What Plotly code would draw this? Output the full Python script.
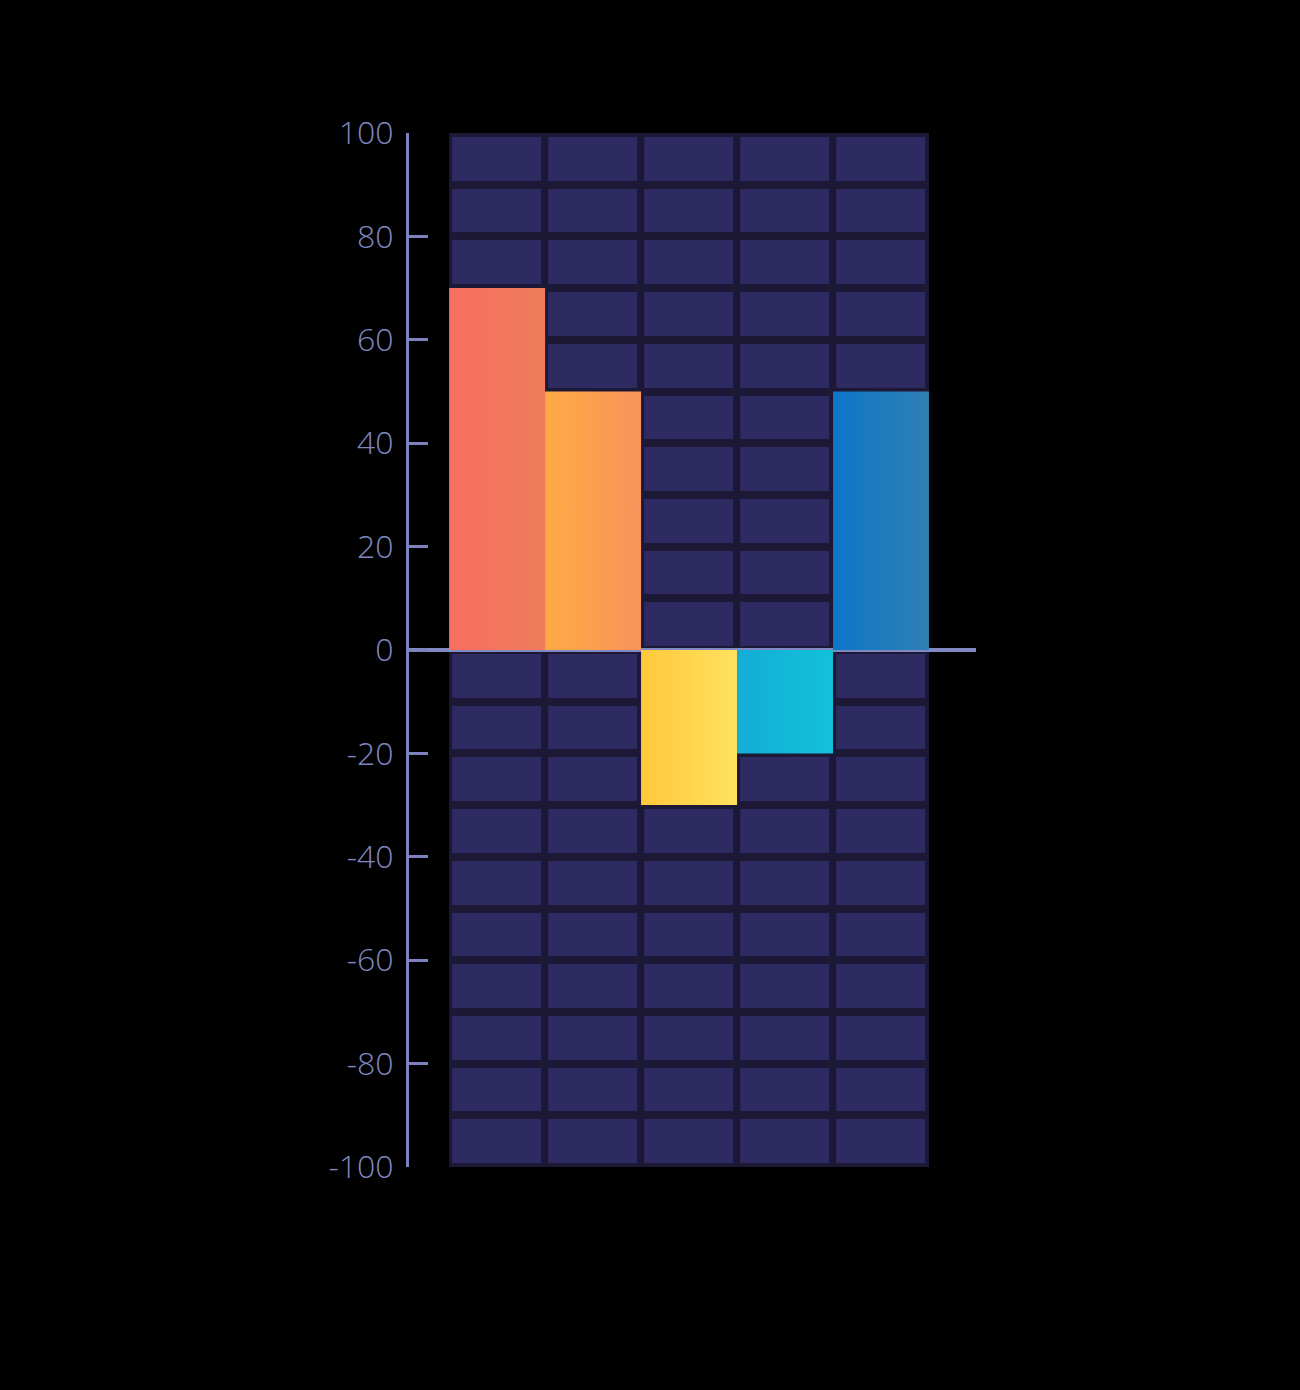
import plotly.graph_objects as go

# ---- data ----
categories = [0, 1, 2, 3, 4]
values = [70, 50, -30, -20, 50]
left_colors = ["#F86E60", "#FFAB45", "#FFC83C", "#14ADD6", "#0E76CA"]
right_colors = ["#EE7C5C", "#F7935A", "#FFE15E", "#12C1DA", "#2F80B2"]
tick_vals = [-100, -80, -60, -40, -20, 0, 20, 40, 60, 80, 100]
tick_text = [str(v) for v in tick_vals]
grid_rows = [-95 + 10 * i for i in range(20)]

BG = "#000000"
AXIS = "#7C83BC"
CELL = "#2E2A62"
GAP = "#1D1836"

fig = go.Figure()

# background grid cells
fig.add_trace(go.Heatmap(
    x=categories, y=grid_rows,
    z=[[1] * len(categories) for _ in grid_rows],
    colorscale=[[0, CELL], [1, CELL]], showscale=False,
    xgap=7, ygap=8, hoverinfo="skip",
))

# bars with horizontal gradient
for c, v, cl, cr in zip(categories, values, left_colors, right_colors):
    fig.add_trace(go.Scatter(
        x=[c - 0.5, c + 0.5, c + 0.5, c - 0.5, c - 0.5],
        y=[0, 0, v, v, 0],
        mode="lines", line=dict(width=0),
        fill="toself",
        fillgradient=dict(type="horizontal", colorscale=[[0, cl], [1, cr]]),
        hoverinfo="skip", showlegend=False,
    ))

fig.add_shape(type="rect", xref="x", yref="y", x0=-0.5, x1=4.5, y0=-100, y1=100,
              fillcolor=GAP, line=dict(width=0), layer="below")

fig.update_layout(
    width=1300, height=1390,
    paper_bgcolor=BG, plot_bgcolor=BG,
    margin=dict(l=409, r=324, t=133, b=223),
    showlegend=False,
    font=dict(family="Open Sans, Noto Sans, sans-serif", color=AXIS),
)
fig.update_xaxes(range=[-0.918, 4.99], visible=False, showgrid=False, zeroline=False)
fig.update_yaxes(
    range=[-100, 100], tickvals=tick_vals, ticktext=tick_text,
    showgrid=False, showline=True, linecolor=AXIS, linewidth=3,
    ticks="inside", ticklen=19, tickwidth=3, tickcolor=AXIS,
    tickfont=dict(size=32, color="#7F87C0", weight=300), ticklabelstandoff=6,
    zeroline=True, zerolinecolor="#8188C2", zerolinewidth=4,
    layer="above traces",
)

fig.write_html("out.html", config={"displayModeBar": False})

# remove default page margin so the figure sits at the window origin
with open("out.html", "r", encoding="utf-8") as f:
    html = f.read()
html = html.replace("<head>", "<head><style>html,body{margin:0;padding:0;background:#000;}</style>", 1)
with open("out.html", "w", encoding="utf-8") as f:
    f.write(html)
